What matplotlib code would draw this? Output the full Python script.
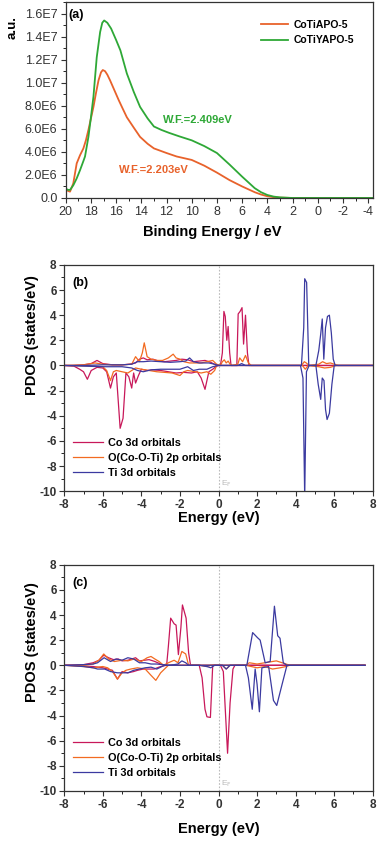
import matplotlib
matplotlib.use("Agg")
import matplotlib.pyplot as plt
import numpy as np
from matplotlib.ticker import MultipleLocator

plt.rcParams['font.family'] = ['Liberation Sans', 'DejaVu Sans']
plt.rcParams['axes.unicode_minus'] = False

# ---- panel (a): UPS spectra (intensity in units of 1E6) ----
be_orange = [20, 19.8, 19.66, 19.4, 19.13, 18.87, 18.6, 18.4, 18.2, 18.0, 17.8, 17.6, 17.4, 17.2, 17.06,
             16.88, 16.7, 16.48, 16.2, 15.8, 15.5, 15.15, 14.6, 14.1, 13.5, 13.0, 12.0, 11.2, 10.0, 9.0,
             8.0, 7.0, 6.0, 5.0, 4.5, 4.0, 3.5, 3.0, 2.0, 0.0, -2.0, -4.4]
int_orange = [0.75, 0.6, 0.55, 1.27, 3.0, 3.7, 4.3, 5.0, 5.9, 6.9, 7.9, 9.1, 10.2, 10.9, 11.1,
              11.0, 10.7, 10.2, 9.5, 8.5, 7.8, 7.0, 6.1, 5.3, 4.7, 4.3, 3.9, 3.6, 3.3, 2.8,
              2.2, 1.55, 1.0, 0.5, 0.3, 0.15, 0.07, 0.03, 0.0, 0.0, 0.0, 0.0]
be_green = [20, 19.8, 19.66, 19.4, 19.13, 18.87, 18.6, 18.47, 18.2, 18.0, 17.8, 17.54, 17.27, 17.1,
            16.95, 16.7, 16.4, 16.0, 15.66, 15.15, 14.6, 14.1, 13.5, 13.0, 12.4, 11.8, 11.0, 10.0,
            9.0, 8.0, 7.0, 6.0, 5.0, 4.5, 4.0, 3.5, 3.0, 2.0, 0.0, -2.0, -4.4]
int_green = [0.8, 0.7, 0.7, 1.1, 1.7, 2.4, 3.2, 3.6, 5.3, 7.0, 8.8, 12.2, 14.4, 15.2,
             15.4, 15.2, 14.7, 13.7, 12.8, 10.8, 9.2, 7.9, 6.9, 6.2, 5.9, 5.65, 5.35, 5.0,
             4.5, 3.9, 2.9, 1.85, 0.85, 0.5, 0.26, 0.12, 0.05, 0.0, 0.0, 0.0, 0.0]
a_yticks = [0, 2e6, 4e6, 6e6, 8e6, 1e7, 1.2e7, 1.4e7, 1.6e7]
a_yticklabels = ['0.0', '2.0E6', '4.0E6', '6.0E6', '8.0E6', '1.0E7', '1.2E7', '1.4E7', '1.6E7']
a_xticks = [20, 18, 16, 14, 12, 10, 8, 6, 4, 2, 0, -2, -4]

# ---- panel (b): PDOS ----
b_co_up_x = [-8, -7.5, -7.0, -6.6, -6.3, -6.0, -5.5, -5.0, -4.6, -4.3, -4.1, -3.9, -3.7, -3.4, -3.1, -2.8,
             -2.5, -2.2, -1.9, -1.6, -1.3, -1.0, -0.7, -0.4, -0.1, 0.1, 0.2, 0.28, 0.35, 0.43, 0.5, 0.58,
             0.65, 0.95, 1.02, 1.12, 1.22, 1.3, 1.4, 1.5, 1.58, 2, 4, 6, 8]
b_co_up_y = [0, 0, 0.05, 0.15, 0.4, 0.15, 0.05, 0.05, 0.1, 0.2, 0.5, 0.6, 0.45, 0.5, 0.35, 0.3,
             0.35, 0.4, 0.5, 0.45, 0.3, 0.35, 0.4, 0.25, 0, 0, 1.0, 4.3, 3.9, 2.0, 3.1, 1.0,
             0, 0, 4.1, 4.3, 4.6, 1.7, 4.0, 1.0, 0, 0, 0, 0, 0]
b_co_dn_x = [-8, -7.5, -7.2, -7.0, -6.8, -6.6, -6.3, -6.0, -5.8, -5.6, -5.45, -5.3, -5.1, -4.95, -4.8,
             -4.65, -4.5, -4.4, -4.3, -4.15, -4.0, -3.7, -3.4, -3.0, -2.6, -2.2, -1.8, -1.4, -1.1, -0.9,
             -0.7, -0.5, -0.3, -0.1, 0, 8]
b_co_dn_y = [0, -0.05, -0.3, -0.5, -1.1, -0.4, -0.15, -0.2, -0.5, -1.8, -0.9, -0.6, -5.0, -4.2, -0.6,
             -0.9, -1.8, -0.6, -1.4, -0.8, -0.3, -0.4, -0.35, -0.4, -0.5, -0.6, -0.55, -0.6, -0.5, -1.0,
             -1.9, -0.5, -0.3, -0.05, 0, 0]
b_o_up_x = [-8, -7, -6.4, -6.0, -5.5, -5.0, -4.5, -4.3, -4.1, -3.95, -3.85, -3.7, -3.5, -3.2, -2.9, -2.6,
            -2.35, -2.2, -2.0, -1.8, -1.5, -1.2, -0.9, -0.6, -0.3, -0.1, 0.1, 0.2, 0.3, 0.4, 0.5, 0.6,
            0.7, 1.0, 1.1, 1.25, 1.4, 1.55, 1.7, 4.3, 4.45, 4.55, 4.7, 5.2, 5.4, 5.6, 5.8, 6.0, 6.2, 8]
b_o_up_y = [0, 0.05, 0.2, 0.1, 0.05, 0.05, 0.1, 0.7, 0.3, 1.0, 1.8, 0.7, 0.5, 0.4, 0.4, 0.6,
            0.9, 0.6, 0.5, 0.3, 0.2, 0.2, 0.2, 0.3, 0.4, 0.1, 0, 0.3, 0.45, 0.2, 0.35, 0.1,
            0, 0.1, 0.6, 0.3, 0.8, 0.2, 0, 0, 0.3, 0.2, 0, 0.1, 0.3, 0.15, 0.2, 0.1, 0, 0]
b_o_dn_x = [-8, -6.5, -6.0, -5.8, -5.6, -5.45, -5.3, -5.0, -4.7, -4.5, -4.3, -4.0, -3.6, -3.2, -2.8, -2.4,
            -2.0, -1.8, -1.6, -1.2, -0.9, -0.6, -0.4, -0.2, -0.1, 0, 4.35, 4.5, 4.65, 5.2, 5.5, 5.8, 6.1, 8]
b_o_dn_y = [0, -0.05, -0.1, -0.4, -1.2, -0.5, -0.4, -0.5, -0.6, -0.4, -0.2, -0.3, -0.4, -0.5, -0.55, -0.6,
            -0.8, -0.5, -0.4, -0.5, -0.6, -0.5, -0.7, -0.4, 0, 0, 0, -0.3, 0, -0.1, -0.2, -0.15, 0, 0]
b_ti_up_x = [-8, -7, -6.0, -5.0, -4.5, -4.2, -3.9, -3.5, -3.0, -2.5, -2.0, -1.7, -1.5, -1.3, -1.0, -0.5,
             -0.2, 0, 1.0, 1.2, 1.4, 4.3, 4.42, 4.47, 4.57, 4.68, 5.05, 5.2, 5.3, 5.38, 5.46, 5.55,
             5.65, 5.75, 5.85, 5.95, 6.05, 8]
b_ti_up_y = [0, 0, 0.05, 0.05, 0.1, 0.3, 0.3, 0.35, 0.3, 0.25, 0.3, 0.35, 0.6, 0.3, 0.2, 0.2,
             0.1, 0, 0, 0.15, 0, 0, 3.0, 6.9, 6.6, 0, 0, 1.2, 2.5, 3.7, 0.5, 3.0,
             3.9, 4.0, 2.6, 0.5, 0, 0]
b_ti_dn_x = [-8, -7, -6, -5, -4.5, -4.2, -3.9, -3.5, -3.0, -2.5, -2.0, -1.6, -1.3, -1.0, -0.6, -0.3, 0,
             4.25, 4.38, 4.47, 4.56, 4.7, 5.05, 5.17, 5.3, 5.38, 5.47, 5.55, 5.63, 5.75, 5.88, 6.0, 8]
b_ti_dn_y = [0, -0.05, -0.1, -0.1, -0.2, -0.4, -0.5, -0.35, -0.3, -0.3, -0.3, -0.1, -0.4, -0.3, -0.3, -0.1, 0,
             0, -1.0, -10.5, -0.5, 0, 0, -1.5, -2.7, -1.0, -1.2, -3.5, -4.3, -3.8, -1.5, 0, 0]

# ---- panel (c): PDOS ----
c_co_up_x = [-8, -7, -6.5, -6.2, -5.95, -5.7, -5.45, -5.2, -5.0, -4.7, -4.5, -4.3, -4.1, -3.85, -3.6,
             -3.3, -3.0, -2.8, -2.69, -2.6, -2.48, -2.3, -2.2, -2.08, -1.95, -1.87, -1.68, -1.55, -1.45, 7.6]
c_co_up_y = [0, 0.05, 0.2, 0.4, 0.8, 0.6, 0.45, 0.5, 0.35, 0.4, 0.5, 0.6, 0.35, 0.4, 0.45,
             0.3, 0.1, 0, 0, 1.5, 3.75, 3.3, 3.2, 0.85, 3.0, 4.8, 3.75, 1.0, 0, 0]
c_co_dn_x = [-8, -7, -6.5, -6.0, -5.75, -5.5, -5.24, -5.0, -4.7, -4.4, -4.2, -3.9, -3.6, -3.34, -3.0, -2.7,
             -1.0, -0.85, -0.7, -0.6, -0.42, -0.3, 0.1, 0.25, 0.47, 0.6, 0.75, 0.85, 7.6]
c_co_dn_y = [0, -0.05, -0.1, -0.2, -0.3, -0.4, -1.1, -0.5, -0.6, -0.5, -0.4, -0.3, -0.3, -0.3, -0.1, 0,
             0, -1.0, -3.5, -4.1, -4.15, 0, 0, -0.5, -7.0, -3.0, -0.3, 0, 0]
c_o_up_x = [-8, -7, -6.5, -6.2, -5.95, -5.7, -5.4, -5.0, -4.7, -4.37, -4.0, -3.7, -3.5, -3.3, -3.08, -2.85,
            -2.6, -2.3, -2.1, -1.9, -1.7, -1.55, 1.4, 1.6, 2.0, 2.4, 2.8, 3.0, 3.3, 3.5, 3.7, 7.6]
c_o_up_y = [0, 0, 0.1, 0.4, 0.9, 0.5, 0.3, 0.4, 0.35, 0.5, 0.3, 0.6, 0.7, 0.5, 0.3, 0,
            0.2, 0.4, 0.2, 1.1, 0.9, 0, 0, 0.2, 0.1, 0.2, 0.3, 0.35, 0.2, 0.1, 0, 0]
c_o_dn_x = [-8, -7, -6.5, -6.0, -5.75, -5.5, -5.24, -5.0, -4.8, -4.55, -4.2, -3.8, -3.5, -3.25, -3.0, -2.8,
            -2.6, -1.0, -0.6, -0.4, 0.2, 0.4, 0.6, 1.4, 1.7, 2.0, 2.4, 2.8, 3.2, 3.5, 3.7, 7.6]
c_o_dn_y = [0, -0.1, -0.2, -0.1, -0.2, -0.5, -1.1, -0.6, -0.4, -0.3, -0.2, -0.3, -0.8, -1.2, -0.6, -0.3,
            0, 0, -0.1, 0, 0, -0.3, 0, 0, -0.1, -0.2, -0.1, -0.3, -0.2, -0.1, 0, 0]
c_ti_up_x = [-8, -7, -6.5, -6.27, -5.93, -5.6, -5.3, -5.0, -4.7, -4.4, -4.1, -3.8, -3.5, -3.2, -2.9, -2.6,
             -2.3, -2.1, -1.9, -1.7, -1.55, 1.47, 1.77, 2.02, 2.16, 2.42, 2.68, 2.9, 3.07, 3.19, 3.36, 3.54, 7.6]
c_ti_up_y = [0, 0.05, 0.1, 0.2, 0.6, 0.3, 0.5, 0.4, 0.6, 0.5, 0.2, 0.2, 0.1, 0.1, 0.05, 0,
             0.05, 0.1, 0.35, 0.2, 0, 0, 2.6, 2.2, 2.0, 0.2, 0.3, 4.7, 2.35, 2.15, 0.2, 0, 0]
c_ti_dn_x = [-8, -7, -6.5, -6.27, -5.9, -5.6, -5.24, -4.9, -4.7, -4.4, -4.1, -3.8, -3.5, -3.2, -2.8,
             -1.0, -0.6, -0.4, -0.2, 0.2, 0.4, 0.6, 1.4, 1.55, 1.75, 1.9, 2.0, 2.12, 2.25, 2.6, 2.85,
             3.02, 3.3, 3.55, 7.6]
c_ti_dn_y = [0, -0.1, -0.2, -0.3, -0.3, -0.5, -0.6, -0.6, -0.6, -0.4, -0.3, -0.2, -0.15, -0.3, 0,
             0, -0.1, -0.2, 0, 0, -0.3, 0, 0, -1.0, -3.5, -0.3, -1.5, -3.7, -0.2, -0.1, -2.8,
             -3.2, -1.5, 0, 0]

labels = ['Co 3d orbitals', 'O(Co-O-Ti) 2p orbitals', 'Ti 3d orbitals']
colors = ['#c8185a', '#f26b21', '#3b3aa0']
spine_col = '#333333'

fig = plt.figure(figsize=(3.8, 8.41), dpi=100)

# (a)
ax = fig.add_axes([0.173, 0.7646, 0.809, 0.233])
ax.plot(be_orange, np.array(int_orange) * 1e6, color='#e8622b', lw=1.3, label='CoTiAPO-5')
ax.plot(be_green, np.array(int_green) * 1e6, color='#2ea836', lw=1.3, label='CoTiYAPO-5')
ax.set_xlim(20, -4.4)
ax.set_ylim(0, 1.7e7)
ax.set_xticks(a_xticks)
ax.xaxis.set_minor_locator(MultipleLocator(1))
ax.set_yticks(a_yticks)
ax.set_yticklabels(a_yticklabels)
ax.yaxis.set_minor_locator(MultipleLocator(1e6))
ax.tick_params(which='major', direction='out', length=3.5, width=0.8, labelsize=9, pad=2.5, colors=spine_col)
ax.tick_params(which='minor', direction='out', length=2, width=0.6)
ax.set_xlabel('Binding Energy / eV', fontsize=10.5, fontweight='bold')
ax.xaxis.set_label_coords(0.476, -0.14)
ax.set_ylabel('a.u.', fontsize=9.5, fontweight='bold')
ax.yaxis.set_label_coords(-0.152, 0.87)
ax.text(9.5, 6.8e6, 'W.F.=2.409eV', color='#2ea836', fontsize=8, fontweight='bold', ha='center', va='center')
ax.text(13.0, 2.43e6, 'W.F.=2.203eV', color='#e8622b', fontsize=8, fontweight='bold', ha='center', va='center')
ax.text(0.01, 0.934, '(a)', transform=ax.transAxes, fontsize=9, fontweight='bold', va='center')
ax.legend(loc='upper left', bbox_to_anchor=(0.635, 0.91), frameon=False, prop={'size': 7.5, 'weight': 'bold'},
          handlelength=2.6, handletextpad=0.5, labelspacing=0.55, borderpad=0, borderaxespad=0)
for s in ax.spines.values():
    s.set_color(spine_col)
    s.set_linewidth(0.9)

# (b) and (c)
panels = [
    ([0.169, 0.416, 0.812, 0.269], '(b)',
     [(b_co_up_x, b_co_up_y, b_co_dn_x, b_co_dn_y),
      (b_o_up_x, b_o_up_y, b_o_dn_x, b_o_dn_y),
      (b_ti_up_x, b_ti_up_y, b_ti_dn_x, b_ti_dn_y)], -0.086, 0.69),
    ([0.169, 0.0595, 0.812, 0.269], '(c)',
     [(c_co_up_x, c_co_up_y, c_co_dn_x, c_co_dn_y),
      (c_o_up_x, c_o_up_y, c_o_dn_x, c_o_dn_y),
      (c_ti_up_x, c_ti_up_y, c_ti_dn_x, c_ti_dn_y)], -0.135, 0.66),
]

for rect, tag, series, xlab_y, ylab_y in panels:
    ax = fig.add_axes(rect)
    ax.axvline(0, color='#bbbbbb', lw=0.8, ls=(0, (1.5, 1.5)), zorder=0)
    for (ux, uy, dx, dy), lab, col in zip(series, labels, colors):
        ax.plot(ux, uy, color=col, lw=0.9, label=lab)
        ax.plot(dx, dy, color=col, lw=0.9)
    ax.set_xlim(-8, 8)
    ax.set_ylim(-10, 8)
    ax.set_xticks(range(-8, 9, 2))
    ax.set_yticks(range(-10, 9, 2))
    ax.xaxis.set_minor_locator(MultipleLocator(1))
    ax.yaxis.set_minor_locator(MultipleLocator(1))
    ax.tick_params(which='major', direction='out', length=3.5, width=0.8, labelsize=8.5, pad=2, colors=spine_col)
    ax.tick_params(which='minor', direction='out', length=2, width=0.6)
    for lbl in ax.get_xticklabels() + ax.get_yticklabels():
        lbl.set_fontweight('bold')
    ax.set_xlabel('Energy (eV)', fontsize=10.5, fontweight='bold')
    ax.xaxis.set_label_coords(0.5, xlab_y)
    ax.set_ylabel('PDOS (states/eV)', fontsize=10.5, fontweight='bold')
    ax.yaxis.set_label_coords(-0.082, ylab_y)
    ax.text(0.028, 0.92, tag, transform=ax.transAxes, fontsize=9, fontweight='bold', va='center')
    ax.text(0.15, -9.4, r'E$_\mathrm{F}$', color='#bbbbbb', fontsize=6, va='center')
    ax.legend(loc='upper left', bbox_to_anchor=(0.03, 0.235), frameon=False, prop={'size': 7.8, 'weight': 'bold'},
              handlelength=2.7, handletextpad=0.45, labelspacing=0.45, borderpad=0, borderaxespad=0)
    for s in ax.spines.values():
        s.set_color(spine_col)
        s.set_linewidth(0.9)

fig.savefig('out.png', dpi=100)
